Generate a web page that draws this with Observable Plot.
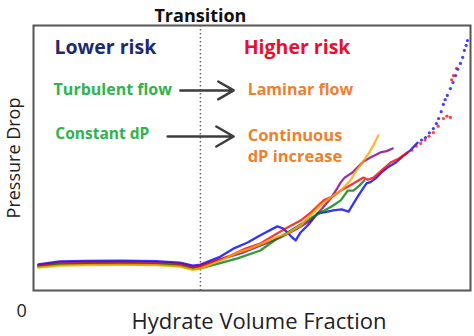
<!DOCTYPE html>
<html><head><meta charset="utf-8">
<script src="https://cdn.jsdelivr.net/npm/d3@7"></script>
<script src="https://cdn.jsdelivr.net/npm/@observablehq/plot@0.6"></script>
<style>html,body{margin:0;padding:0;background:#fff;}svg{display:block;}</style>
</head><body><div id="chart"></div>
<script>
// Flat (pre-transition) section: shared x, per-series y
const flatX = [1.1, 6, 12, 20, 28, 33.5, 36.5];
const blueFlat   = [9.9, 11.0, 11.2, 11.3, 11.1, 10.5, 9.4];
const purpleFlat = [9.6, 10.6, 10.8, 10.8, 10.7, 10.1, 9.0];
const redFlat    = [9.1, 10.0, 10.2, 10.2, 10.1, 9.5, 8.4];
const greenFlat  = [9.0, 9.8, 10.0, 10.0, 9.9, 9.3, 8.2];
const orangeFlat = [8.6, 9.4, 9.6, 9.7, 9.6, 9.0, 7.8];

// Rising (post-transition) section, [fraction, dP]
const blueRise = [[38.2,9.8],[42.8,12.8],[46.0,16.0],[49.0,18.1],[51.5,20.5],[53.1,21.9],[55.8,24.2],[57.0,23.5],[58.1,21.9],[59.2,20.0],[60.0,18.9],[61.1,21.9],[63.0,25.0],[65.0,29.1],[66.8,29.6],[68.6,30.2],[70.5,30.6],[72.1,29.8],[73.9,34.7],[75.0,37.5],[76.2,40.4],[77.2,41.0],[78.3,42.3],[79.8,44.8],[81.0,46.4],[83.0,48.4],[84.7,50.9],[86.3,53.0],[87.9,55.8]];
const blueDots = [[88.8,56.8],[89.7,57.7],[90.6,59.5],[91.5,61.1],[92.2,63.0],[92.7,64.9],[93.3,67.5],[93.8,70.2],[94.2,72.0],[94.7,73.6],[95.4,76.2],[96.0,78.5],[96.6,81.1],[97.1,83.5],[97.7,85.7],[98.2,88.0],[98.6,90.6],[99.0,92.5],[99.3,94.3]];
const redRise = [[38.2,9.1],[45.1,13.2],[48.5,15.8],[51.9,17.7],[55.0,20.8],[57.7,23.4],[61.1,26.4],[63.5,29.5],[66.4,34.0],[68.5,35.5],[70.3,37.7],[73.0,40.2],[75.5,42.6],[76.5,41.8],[77.8,42.6],[79.8,45.5],[81.7,48.3],[83.6,49.8],[85.6,52.1]];
const redDots = [[86.6,53.0],[87.6,54.5],[88.6,55.5],[89.6,56.8],[90.5,58.2],[91.5,59.6],[92.6,62.0],[93.8,64.9],[94.6,65.8],[95.4,65.3],[96.1,81.1],[96.8,83.8],[95.7,79.5]];
const purpleRise = [[38.2,9.4],[42.8,11.8],[47.4,14.0],[52.0,17.0],[56.5,20.0],[60.0,23.0],[63.4,26.4],[65.8,30.5],[68.0,34.7],[69.5,38.5],[70.3,40.8],[71.2,42.6],[73.0,44.5],[74.1,46.4],[75.6,48.8],[77.1,50.2],[79.4,52.1],[80.8,52.6],[82.2,53.6]];
const orangeRise = [[38.2,8.3],[42.8,11.3],[46.7,14.3],[49.5,15.8],[51.9,17.4],[55.0,19.8],[58.1,21.5],[61.1,24.5],[63.5,28.5],[65.7,32.1],[68.0,35.1],[70.3,37.7],[72.5,41.5],[73.6,44.5],[74.8,47.2],[76.0,50.0],[77.1,52.8],[78.0,55.5],[78.9,58.5]];
const greenRise = [[38.2,8.3],[42.5,10.2],[46.7,12.1],[51.9,15.1],[55.8,19.6],[58.5,22.3],[61.1,24.9],[64.0,27.8],[66.6,30.2],[68.5,32.0],[70.3,34.0],[71.9,37.7],[73.2,37.7],[74.5,39.5],[75.7,41.5]];

const seriesNames  = ["Blue", "Purple", "Red", "Green", "Orange"];
const seriesColors = ["#4a48dc", "#6a4aa8", "#e0463e", "#3eaa55", "#f0863a"];
const transitionX = 38.2;

const flats = [blueFlat, purpleFlat, redFlat, greenFlat, orangeFlat];
const rises = [blueRise, purpleRise, redRise, greenRise, orangeRise];
const lineRows = [];
seriesNames.forEach((s, i) => {
  flatX.forEach((x, j) => lineRows.push({series: s, x, y: flats[i][j]}));
  rises[i].forEach(([x, y]) => lineRows.push({series: s, x, y}));
});
const dotRows = [
  ...blueDots.map(([x, y]) => ({series: "Blue", x, y})),
  ...redDots.map(([x, y]) => ({series: "Red", x, y}))
];

const font = "'Open Sans', sans-serif";
const chart = Plot.plot({
  width: 474, height: 336,
  marginLeft: 33, marginRight: 4, marginTop: 25, marginBottom: 46,
  style: {fontFamily: font, background: "#fff"},
  x: {domain: [0, 100], axis: null},
  y: {domain: [0, 100], axis: null},
  color: {domain: seriesNames, range: seriesColors},
  marks: [
    Plot.ruleX([transitionX], {stroke: "#666", strokeWidth: 1.5, strokeDasharray: "1.5,2.5"}),
    Plot.line(lineRows, {x: "x", y: "y", z: "series", stroke: "series", strokeWidth: 2.3, strokeOpacity: 0.8}),
    Plot.dot(dotRows, {x: "x", y: "y", fill: "series", r: 1.6, fillOpacity: 0.75}),
    Plot.frame({stroke: "#555", strokeWidth: 2}),
    Plot.text(["Transition"], {x: transitionX, frameAnchor: "top", dy: -16, fontWeight: "bold", fontSize: 18, fill: "#111"}),
    Plot.text(["Lower risk"], {x: 4.8, y: 91.7, textAnchor: "start", fontWeight: "bold", fontSize: 19.5, fill: "#1c2a6e"}),
    Plot.text(["Higher risk"], {x: 48.1, y: 91.7, textAnchor: "start", fontWeight: "bold", fontSize: 19.5, fill: "#e8102c"}),
    Plot.text(["Turbulent flow"], {x: 4.6, y: 75.8, textAnchor: "start", fontWeight: "bold", fontSize: 16, fill: "#2fb34e"}),
    Plot.text(["Laminar flow"], {x: 49.0, y: 75.8, textAnchor: "start", fontWeight: "bold", fontSize: 16, fill: "#f07f2c"}),
    Plot.text(["Constant dP"], {x: 5.0, y: 58.9, textAnchor: "start", fontWeight: "bold", fontSize: 15.5, fill: "#2fb34e"}),
    Plot.text(["Continuous"], {x: 49.0, y: 58.5, textAnchor: "start", fontWeight: "bold", fontSize: 16.5, fill: "#f07f2c"}),
    Plot.text(["dP increase"], {x: 49.0, y: 50.6, textAnchor: "start", fontWeight: "bold", fontSize: 16.5, fill: "#f07f2c"}),
    Plot.arrow([0], {x1: 33.6, x2: 45.8, y1: 75.5, y2: 75.5, stroke: "#3d3d3d", strokeWidth: 2.5, headLength: 12}),
    Plot.arrow([0], {x1: 30.7, x2: 45.8, y1: 58.1, y2: 58.1, stroke: "#3d3d3d", strokeWidth: 2.5, headLength: 12}),
    Plot.text(["Pressure Drop"], {frameAnchor: "left", textAnchor: "middle", rotate: -90, dx: -19, dy: 0, fontSize: 18, fill: "#222"}),
    Plot.text(["0"], {frameAnchor: "bottom-left", dx: -17, dy: 26, fontSize: 18, fill: "#222"}),
    Plot.text(["Hydrate Volume Fraction"], {frameAnchor: "bottom", dx: 7, dy: 38, fontSize: 22, fill: "#222"})
  ]
});
document.getElementById("chart").appendChild(chart);
</script></body></html>
